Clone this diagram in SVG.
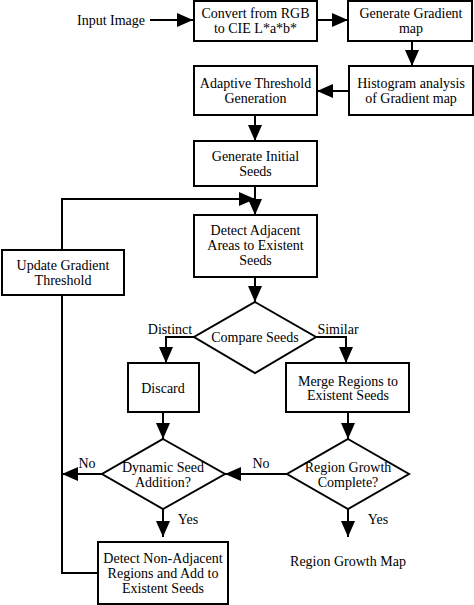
<svg xmlns="http://www.w3.org/2000/svg" width="474" height="605" viewBox="0 0 474 605">
<style>
rect, polygon.d { fill: #fff; stroke: #000; stroke-width: 2; }
text { font-family: "Liberation Serif", "Times New Roman", serif; font-size: 14px; fill: #000; text-anchor: middle; }
.c path { fill: none; stroke: #000; stroke-width: 2; }
</style>
<defs>
<marker id="ah" markerUnits="userSpaceOnUse" markerWidth="16" markerHeight="14" refX="16" refY="7" orient="auto">
<path d="M0,0 L16,7 L0,14 z" fill="#000"/>
</marker>
</defs>
<rect x="0" y="0" width="474" height="605" style="fill:#fff;stroke:none"/>
<g class="c" id="connectors">
<path d="M150,20 H193" marker-end="url(#ah)"/>
<path d="M317,20 H348" marker-end="url(#ah)"/>
<path d="M412,41 V66" marker-end="url(#ah)"/>
<path d="M349,91 H317" marker-end="url(#ah)"/>
<path d="M255,115 V141" marker-end="url(#ah)"/>
<path d="M255,186 V215" marker-end="url(#ah)"/>
<path d="M62,250 V199 H255" marker-end="url(#ah)"/>
<path d="M255,277 V302" marker-end="url(#ah)"/>
<path d="M194,337 H166 V363" marker-end="url(#ah)"/>
<path d="M316,337 H346 V363" marker-end="url(#ah)"/>
<path d="M163,412 V439" marker-end="url(#ah)"/>
<path d="M348,412 V439" marker-end="url(#ah)"/>
<path d="M287,474 H225" marker-end="url(#ah)"/>
<path d="M102,474 H62" marker-end="url(#ah)"/>
<path d="M163,509 V537" marker-end="url(#ah)"/>
<path d="M348,509 V537" marker-end="url(#ah)"/>
<path d="M62,295 V573 H98"/>
</g>
<text x="111" y="25">Input Image</text>
<g id="convert"><rect x="194" y="1" width="123" height="40"/><text x="255.5" y="18">Convert from RGB</text><text x="255.5" y="33">to CIE L*a*b*</text></g>
<g id="gradient"><rect x="348" y="1" width="124" height="40"/><text x="411" y="18">Generate Gradient</text><text x="411" y="33">map</text></g>
<g id="histogram"><rect x="349" y="66" width="124" height="49"/><text x="411" y="88">Histogram analysis</text><text x="411" y="103">of Gradient map</text></g>
<g id="adaptive"><rect x="194" y="66" width="123" height="49"/><text x="255.5" y="88">Adaptive Threshold</text><text x="255.5" y="103">Generation</text></g>
<g id="initial"><rect x="194" y="141" width="123" height="45"/><text x="255.5" y="161">Generate Initial</text><text x="255.5" y="176">Seeds</text></g>
<g id="update"><rect x="2" y="250" width="122" height="45"/><text x="63" y="270">Update Gradient</text><text x="63" y="285">Threshold</text></g>
<g id="detect"><rect x="194" y="215" width="123" height="62"/><text x="255.5" y="235">Detect Adjacent</text><text x="255.5" y="250">Areas to Existent</text><text x="255.5" y="265">Seeds</text></g>
<g id="compare"><polygon class="d" points="255,302 316,337 255,373 194,337"/><text x="255" y="342">Compare Seeds</text></g>
<text x="170" y="334">Distinct</text>
<text x="338" y="334">Similar</text>
<g id="discard"><rect x="128" y="363" width="71" height="49"/><text x="163" y="393">Discard</text></g>
<g id="merge"><rect x="286" y="363" width="123" height="49"/><text x="348" y="386">Merge Regions to</text><text x="348" y="400">Existent Seeds</text></g>
<g id="dynamic"><polygon class="d" points="163,439 225,474 163,509 102,474"/><text x="163" y="472">Dynamic Seed</text><text x="163" y="487">Addition?</text></g>
<g id="complete"><polygon class="d" points="348,439 409,474 348,509 287,474"/><text x="348" y="472">Region Growth</text><text x="348" y="487">Complete?</text></g>
<text x="87" y="468">No</text>
<text x="261" y="468">No</text>
<text x="188" y="524">Yes</text>
<text x="378" y="524">Yes</text>
<g id="nonadjacent"><rect x="98" y="542" width="130" height="62"/><text x="163" y="563">Detect Non-Adjacent</text><text x="163" y="578">Regions and Add to</text><text x="163" y="593">Existent Seeds</text></g>
<g id="map"><text x="348" y="566">Region Growth Map</text></g>
</svg>
